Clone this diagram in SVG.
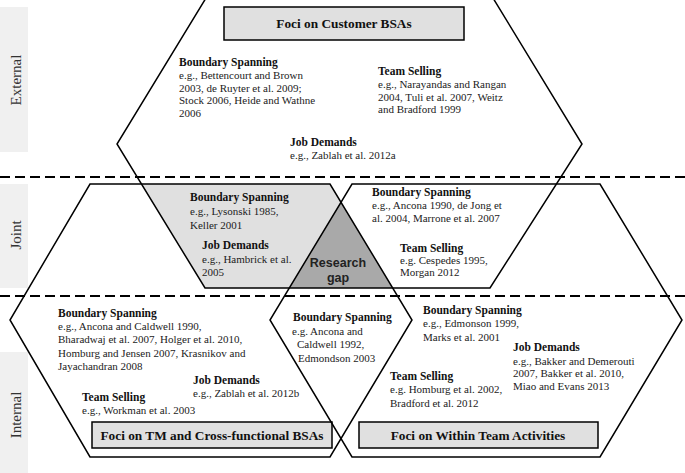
<svg xmlns="http://www.w3.org/2000/svg" width="685" height="473" viewBox="0 0 685 473">
<style>
.band{fill:#f0f0f0}
.lab{font-family:"Liberation Serif",serif;font-size:15px;fill:#333;text-anchor:middle}
.hex{fill:none;stroke:#000;stroke-width:1.5;stroke-linejoin:miter}
.sep{stroke:#000;stroke-width:2;stroke-dasharray:10 5}
.box{fill:#e0e0e0;stroke:#000;stroke-width:1.5}
.t{font-family:"Liberation Serif",serif;font-weight:bold;font-size:13.3px;fill:#111;text-anchor:middle}
.h{font-family:"Liberation Serif",serif;font-weight:bold;font-size:11.5px;fill:#111}
.b{font-family:"Liberation Serif",serif;font-size:11px;fill:#222}
.gap{font-family:"Liberation Sans",sans-serif;font-weight:bold;font-size:12.5px;fill:#222;text-anchor:middle}
</style>
<rect width="685" height="473" fill="#fff"/>
<g id="labels">
<rect class="band" x="0" y="7" width="28" height="145"/>
<rect class="band" x="0" y="184" width="28" height="104"/>
<rect class="band" x="0" y="352" width="28" height="121"/>
<text class="lab" transform="translate(21,80) rotate(-90)">External</text>
<text class="lab" transform="translate(21,235) rotate(-90)">Joint</text>
<text class="lab" transform="translate(21,415) rotate(-90)">Internal</text>
</g>
<g id="overlaps">
<polygon points="141.4,184 330,184 392.7,288 205,288" fill="#e0e0e0"/>
<polygon points="341,202.2 392.7,288 289.3,288" fill="#a9a9a9"/>
</g>
<g id="separators">
<line class="sep" x1="0" y1="177" x2="685" y2="177"/>
<line class="sep" x1="0" y1="296" x2="685" y2="296"/>
</g>
<g id="hexA">
<polygon class="hex" points="206,-2 493,-2 582,144 490,288 205,288 117,144"/>
<rect class="box" x="224" y="7" width="240" height="33"/>
<text class="t" x="344" y="28">Foci on Customer BSAs</text>
</g>
<g id="hexB">
<polygon class="hex" points="90,184 330,184 412,320 330,457 90,457 10,320"/>
<rect class="box" x="92" y="422" width="240" height="26"/>
<text class="t" x="212" y="440">Foci on TM and Cross-functional BSAs</text>
</g>
<g id="hexC">
<polygon class="hex" points="352,184 600,184 682,320 600,457 352,457 270,320"/>
<rect class="box" x="359" y="422" width="239" height="26"/>
<text class="t" x="478" y="440">Foci on Within Team Activities</text>
</g>
<g id="ext-bs">
<text class="h" x="179" y="66">Boundary Spanning</text>
<text class="b" x="179" y="79">e.g., Bettencourt and Brown</text>
<text class="b" x="179" y="91.5">2003, de Ruyter et al. 2009;</text>
<text class="b" x="179" y="104">Stock 2006, Heide and Wathne</text>
<text class="b" x="179" y="116.5">2006</text>
</g>
<g id="ext-ts">
<text class="h" x="378" y="75">Team Selling</text>
<text class="b" x="378" y="88">e.g., Narayandas and Rangan</text>
<text class="b" x="378" y="100.5">2004, Tuli et al. 2007, Weitz</text>
<text class="b" x="378" y="113">and Bradford 1999</text>
</g>
<g id="ext-jd">
<text class="h" x="290" y="146">Job Demands</text>
<text class="b" x="290" y="158.5">e.g., Zablah et al. 2012a</text>
</g>
<g id="joint-left">
<text class="h" x="190" y="201">Boundary Spanning</text>
<text class="b" x="190" y="215">e.g., Lysonski 1985,</text>
<text class="b" x="190" y="229">Keller 2001</text>
<text class="h" x="202" y="249">Job Demands</text>
<text class="b" x="202" y="263">e.g., Hambrick et al.</text>
<text class="b" x="202" y="276">2005</text>
</g>
<g id="research-gap">
<text class="gap" x="338" y="267">Research</text>
<text class="gap" x="338" y="282">gap</text>
</g>
<g id="joint-right">
<text class="h" x="372" y="196">Boundary Spanning</text>
<text class="b" x="372" y="209">e.g., Ancona 1990, de Jong et</text>
<text class="b" x="372" y="222">al. 2004, Marrone et al. 2007</text>
<text class="h" x="400" y="252">Team Selling</text>
<text class="b" x="400" y="264">e.g. Cespedes 1995,</text>
<text class="b" x="400" y="276">Morgan 2012</text>
</g>
<g id="int-left">
<text class="h" x="58" y="317">Boundary Spanning</text>
<text class="b" x="58" y="330">e.g., Ancona and Caldwell 1990,</text>
<text class="b" x="58" y="343">Bharadwaj et al. 2007, Holger et al. 2010,</text>
<text class="b" x="58" y="356.5">Homburg and Jensen 2007, Krasnikov and</text>
<text class="b" x="58" y="370">Jayachandran 2008</text>
<text class="h" x="193" y="384">Job Demands</text>
<text class="b" x="193" y="397">e.g., Zablah et al. 2012b</text>
<text class="h" x="82" y="401">Team Selling</text>
<text class="b" x="82" y="414">e.g., Workman et al. 2003</text>
</g>
<g id="int-mid">
<text class="h" x="293" y="321">Boundary Spanning</text>
<text class="b" x="292" y="335">e.g. Ancona and</text>
<text class="b" x="297" y="348">Caldwell 1992,</text>
<text class="b" x="298" y="362">Edmondson 2003</text>
</g>
<g id="int-right">
<text class="h" x="423" y="314">Boundary Spanning</text>
<text class="b" x="423" y="327">e.g., Edmonson 1999,</text>
<text class="b" x="423" y="341">Marks et al. 2001</text>
<text class="h" x="390" y="380">Team Selling</text>
<text class="b" x="390" y="393">e.g. Homburg et al. 2002,</text>
<text class="b" x="390" y="407">Bradford et al. 2012</text>
<text class="h" x="513" y="351">Job Demands</text>
<text class="b" x="513" y="365">e.g., Bakker and Demerouti</text>
<text class="b" x="513" y="377">2007, Bakker et al. 2010,</text>
<text class="b" x="513" y="390">Miao and Evans 2013</text>
</g>
</svg>
